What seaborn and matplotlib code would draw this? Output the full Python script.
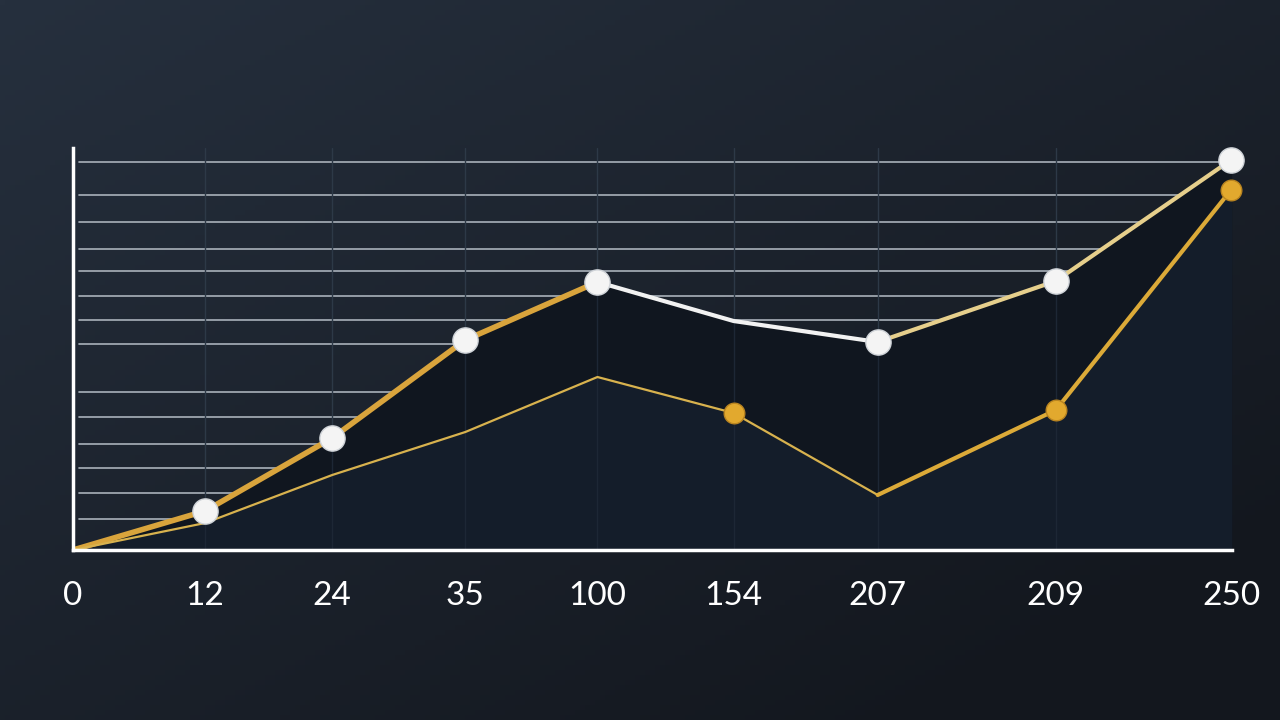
import numpy as np
import pandas as pd
import matplotlib.pyplot as plt
import seaborn as sns

# x labels as printed under the axis
labels = ["0", "12", "24", "35", "100", "154", "207", "209", "250"]
# horizontal place of each label along the axis
x_pos = [0, 132, 259, 392, 524, 660, 804, 982, 1157]
upper = [0, 39, 112, 210, 268, 229, 208, 269, 390]
lower = [0, 27, 75, 118, 173, 137, 55, 140, 360]
grid_y = [388, 355, 328, 301, 279, 254, 230, 206, 158, 133, 106, 82, 57, 31]

df = pd.DataFrame({"x": x_pos, "upper": upper, "lower": lower})

sns.set_style("dark")
plt.rcParams['font.family'] = ['Lato', 'DejaVu Sans']

fig = plt.figure(figsize=(12.8, 7.2), dpi=100)

# background gradient
bg = fig.add_axes([0, 0, 1, 1], zorder=-10)
gx, gy = np.meshgrid(np.linspace(0, 1, 256), np.linspace(0, 1, 144))
t = np.clip(0.55 * gx + 0.6 * gy, 0, 1)[..., None]
c0 = np.array([0x26, 0x30, 0x3e]) / 255
c1 = np.array([0x13, 0x17, 0x1e]) / 255
bg.imshow(c0 * (1 - t) + c1 * t, aspect='auto', extent=[0, 1, 0, 1])
bg.axis('off')

ax = fig.add_axes([73 / 1280, 1 - 550 / 720, (1232 - 73) / 1280, (550 - 148) / 720])
ax.set_facecolor('none')
ax.set_xlim(0, 1158)
ax.set_ylim(0, 402)

# grid
for g in grid_y:
    ax.axhline(g, xmin=0.005, color='#a9b1ba', lw=1.2, zorder=1)
for xv in x_pos[1:-1]:
    ax.axvline(xv, color='#2d3947', lw=1, zorder=1)

# areas
ax.fill_between(df["x"], df["upper"], 0, color='#10161f', zorder=2)
ax.fill_between(df["x"], df["lower"], 0, color='#141d2a', zorder=3)
for i, xv in enumerate(x_pos[1:-1], start=1):
    ax.plot([xv, xv], [0, df["upper"][i]], color='#1d2735', lw=1, zorder=3.5)

# lines
sns.lineplot(data=df.iloc[:5], x="x", y="upper", color='#d9a43c', lw=4, ax=ax, zorder=5)
sns.lineplot(data=df.iloc[4:7], x="x", y="upper", color='#f2f2f2', lw=3, ax=ax, zorder=5)
sns.lineplot(data=df.iloc[6:], x="x", y="upper", color='#e6cf8c', lw=3, ax=ax, zorder=5)
sns.lineplot(data=df.iloc[:7], x="x", y="lower", color='#d8b24e', lw=1.6, ax=ax, zorder=5)
sns.lineplot(data=df.iloc[6:], x="x", y="lower", color='#dcaa38', lw=3, ax=ax, zorder=5)

# markers
wm = df.drop(index=[0, 5])
ax.scatter(wm["x"], wm["upper"], s=330, color='#f4f4f4', edgecolor='#cfd3d8', lw=1, zorder=7, clip_on=False)
gm = df.loc[[5, 7, 8]]
ax.scatter(gm["x"], gm["lower"], s=220, color='#e2a92e', edgecolor='#b98420', lw=1, zorder=7, clip_on=False)

ax.set_xticks(x_pos)
ax.set_xticklabels(labels)
ax.set_yticks([])
ax.set_xlabel("")
ax.set_ylabel("")
ax.tick_params(axis='x', colors='white', labelcolor='white', length=8, width=2, pad=14, labelsize=24, direction='out')
ax.grid(False)
for s in ['top', 'right']:
    ax.spines[s].set_visible(False)
for s in ['left', 'bottom']:
    ax.spines[s].set_color('white')
    ax.spines[s].set_linewidth(2.5)
    ax.spines[s].set_zorder(8)

fig.savefig('out.png', dpi=100, facecolor='#1c222b')
